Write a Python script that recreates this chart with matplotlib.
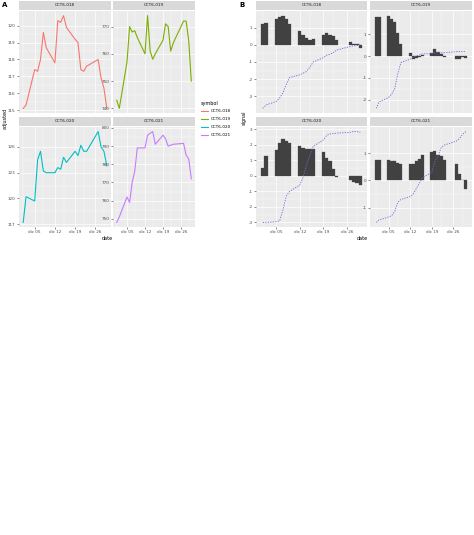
import matplotlib
matplotlib.use("Agg")
import matplotlib.pyplot as plt
import matplotlib.dates as mdates
import numpy as np
import datetime as dt

days = [1,2,5,6,7,8,9,12,13,14,15,16,19,20,21,22,23,27,28,29,30]
dates = [dt.date(2016,12,d) for d in days]
symbols = ["CCT6-018","CCT6-019","CCT6-020","CCT6-021"]
colors = ["#F8766D","#7CAE00","#00BFC4","#C77CFF"]

adjusted = {
 "CCT6-018":[115.1,115.3,117.4,117.3,118.0,119.6,118.7,117.8,120.3,120.2,120.6,119.9,119.2,119.0,117.4,117.3,117.6,118.0,116.9,116.3,115.1],
 "CCT6-019":[743,740,757,770,768,768.5,766,760,774,761,758,760,765,771,770,761,764,772,772,765,750],
 "CCT6-020":[117.2,120.2,119.7,124.5,125.5,123.2,123.0,123.0,123.6,123.4,124.8,124.2,125.5,125.0,126.2,125.5,125.5,127.8,126.0,125.5,123.8],
 "CCT6-021":[748,751,762,759,770,776,789,789,796,797,798,791,796,794,790,790.5,791,791.5,785,783,772],
}
signal = {
 "CCT6-018":[1.2,1.3,1.5,1.6,1.7,1.5,1.2,0.8,0.55,0.4,0.3,0.35,0.55,0.7,0.6,0.5,0.3,0.15,0.05,0.05,-0.2],
 "CCT6-019":[1.8,1.8,1.85,1.7,1.55,1.05,0.55,0.15,-0.15,-0.1,-0.05,0.05,0.15,0.3,0.2,0.1,-0.05,-0.15,-0.15,-0.05,-0.1],
 "CCT6-020":[0.5,1.25,1.65,2.1,2.4,2.25,2.1,1.9,1.8,1.75,1.75,1.75,1.55,1.15,0.95,0.45,-0.1,-0.25,-0.4,-0.45,-0.6],
 "CCT6-021":[0.75,0.75,0.75,0.7,0.7,0.65,0.6,0.6,0.6,0.7,0.8,0.95,1.05,1.1,0.95,0.9,0.75,0.6,0.25,0.0,-0.3],
}
trend = {
 "CCT6-018":[-3.7,-3.5,-3.3,-3.1,-2.8,-2.3,-1.9,-1.75,-1.65,-1.55,-1.3,-1.0,-0.75,-0.6,-0.55,-0.45,-0.3,-0.1,-0.05,-0.05,0.0],
 "CCT6-019":[-2.4,-2.1,-1.9,-1.75,-1.5,-0.8,-0.3,-0.15,-0.05,0.0,0.05,0.1,0.1,0.15,0.15,0.15,0.15,0.2,0.2,0.2,0.2],
 "CCT6-020":[-3,-3,-2.95,-2.9,-2.2,-1.3,-1.0,-0.6,-0.1,0.7,1.3,1.9,2.3,2.6,2.7,2.72,2.75,2.8,2.85,2.85,2.8],
 "CCT6-021":[-1.55,-1.45,-1.35,-1.3,-1.15,-0.8,-0.7,-0.6,-0.5,-0.3,-0.1,0.1,0.3,0.7,0.9,1.2,1.3,1.45,1.55,1.7,1.8],
}
yticksA = {"CCT6-018":[115,116,117,118,119,120],"CCT6-019":[740,750,760,770],
           "CCT6-020":[117,120,123,126],"CCT6-021":[750,760,770,780,790,800]}
yticksB = {"CCT6-018":[-3,-2,-1,0,1],"CCT6-019":[-2,-1,0,1],
           "CCT6-020":[-3,-2,-1,0,1,2,3],"CCT6-021":[-1,0,1]}
xticks = [dt.date(2016,12,d) for d in (5,12,19,26)]
xticklabels = ["dic 05","dic 12","dic 19","dic 26"]

W,H = 474,535
fig = plt.figure(figsize=(W/100,H/100), dpi=100)
FS = 3

def ax_px(x0,y0,x1,y1):
    return fig.add_axes([x0/W, 1-y1/H, (x1-x0)/W, (y1-y0)/H])

def style(ax, yt, showx, lo, hi, xpad):
    ax.set_facecolor("#EBEBEB")
    for s in ax.spines.values(): s.set_visible(False)
    x0 = mdates.date2num(dt.date(2016,12,1)) - xpad
    x1 = mdates.date2num(dt.date(2016,12,30)) + xpad
    ax.set_xlim(x0 - 0.05*(x1-x0), x1 + 0.05*(x1-x0))
    r = hi - lo
    ax.set_ylim(lo - 0.05*r, hi + 0.05*r)
    ax.set_xticks(xticks)
    ax.set_xticklabels(xticklabels if showx else [])
    ax.set_yticks(yt)
    ax.set_yticklabels([str(v) for v in yt])
    ax.tick_params(labelsize=FS, length=1.5, width=0.4, color="#333333", labelcolor="#4D4D4D", pad=1)
    if not showx: ax.tick_params(axis="x", length=0)
    ax.grid(True, color="white", lw=0.5)
    ax.set_axisbelow(True)
    mx = [dt.date(2016,12,d) for d in (1,8,15,22,29)]
    for m in mx: ax.axvline(m, color="white", lw=0.25, zorder=0)
    for a,b in zip(yt[:-1],yt[1:]): ax.axhline((a+b)/2, color="white", lw=0.25, zorder=0)

def strip(x0,x1,y0,text):
    s = ax_px(x0,y0,x1,y0+9)
    s.set_facecolor("#D9D9D9"); s.set_xticks([]); s.set_yticks([])
    for sp in s.spines.values(): sp.set_visible(False)
    s.text(0.5,0.5,text,ha="center",va="center",fontsize=FS,color="#1A1A1A",transform=s.transAxes)

colsA = [(19,111),(113,195)]
colsB = [(256,367),(370,472)]
rows = [(1,113),(117,227)]

for i,sym in enumerate(symbols):
    r,c = divmod(i,2)
    x0,x1 = colsA[c]; y0,y1 = rows[r]
    strip(x0,x1,y0,sym)
    ax = ax_px(x0,y0+10,x1,y1)
    ax.plot(dates, adjusted[sym], color=colors[i], lw=0.8)
    style(ax, yticksA[sym], r==1, min(adjusted[sym]), max(adjusted[sym]), 0)
    x0,x1 = colsB[c]
    strip(x0,x1,y0,sym)
    ax = ax_px(x0,y0+10,x1,y1)
    ax.bar(dates, signal[sym], width=1.0, color="#414141", edgecolor="#414141", lw=0.2)
    ax.plot(dates, trend[sym], color="#6A6ADB", lw=0.6, ls=(0,(1.5,1.5)))
    allv = signal[sym] + trend[sym] + [0]
    style(ax, yticksB[sym], r==1, min(allv), max(allv), 0.5)

fig.text(2/W,1-5/H,"A",fontsize=5,fontweight="bold",va="center")
fig.text(239/W,1-5/H,"B",fontsize=5,fontweight="bold",va="center")
fig.text(107/W,1-238/H,"date",fontsize=FS+0.5,ha="center",va="center")
fig.text(362/W,1-238/H,"date",fontsize=FS+0.5,ha="center",va="center")
fig.text(5/W,1-118/H,"adjusted",fontsize=FS+0.5,rotation=90,ha="center",va="center")
fig.text(244/W,1-118/H,"signal",fontsize=FS+0.5,rotation=90,ha="center",va="center")

fig.text(201/W,1-103/H,"symbol",fontsize=FS+0.5,va="center")
for i,sym in enumerate(symbols):
    y = 111+8*i
    fig.add_artist(plt.Line2D([201/W,208/W],[1-y/H,1-y/H],color=colors[i],lw=0.8))
    fig.text(211/W,1-y/H,sym,fontsize=FS,va="center")

fig.savefig("out.png", dpi=100)
